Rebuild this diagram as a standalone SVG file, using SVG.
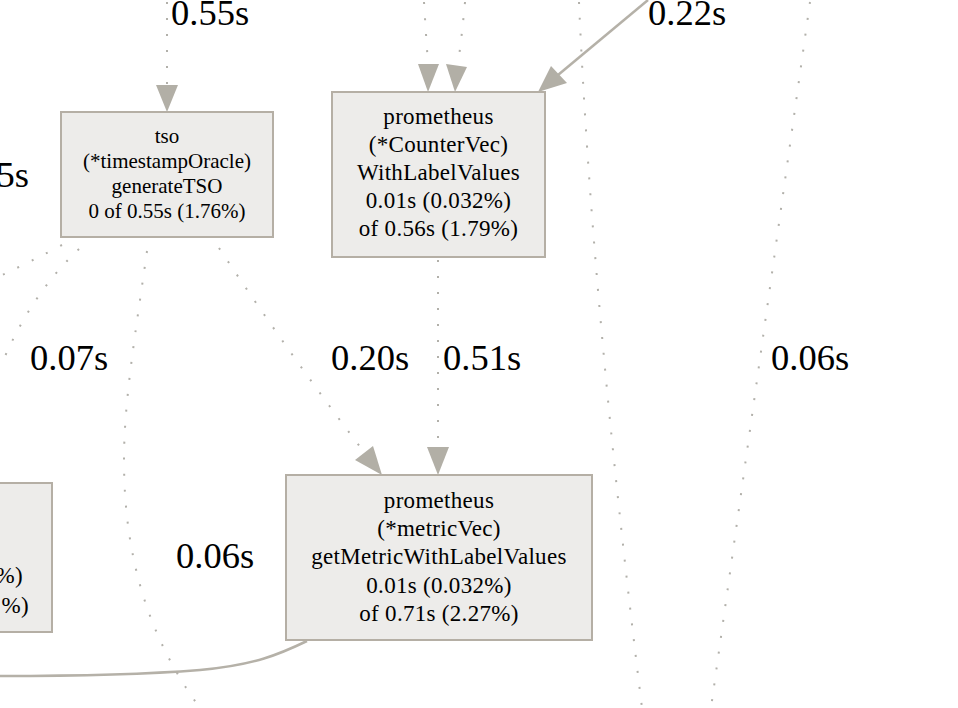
<svg xmlns="http://www.w3.org/2000/svg" width="958" height="708" viewBox="0 0 958 708">
<defs>
<style>
.node rect{fill:#edecea;stroke:#b5afa5;stroke-width:2}
.node text{font-family:"Liberation Serif","Times New Roman",serif;text-anchor:middle;fill:#000}
.n1 text{font-size:21px}
.n2 text{font-size:23px;letter-spacing:0.3px}
.dot{fill:none;stroke:#b2b0aa;stroke-width:2;stroke-dasharray:2,14}
.solid{fill:none;stroke:#b5b1a8;stroke-width:2.5}
.ah{fill:#b2afa6;stroke:none}
.lbl{font-family:"Liberation Serif","Times New Roman",serif;font-size:36.5px;fill:#000}
</style>
</defs>
<rect width="958" height="708" fill="#fff"/>
<g id="edges">
  <path class="dot" d="M167,2 L167,84"/>
  <polygon class="ah" points="156,85 178,85 167,112"/>
  <path class="dot" d="M424,2 Q426,35 428,64"/>
  <polygon class="ah" points="418,64 439,64 428,92"/>
  <path class="dot" d="M465,2 Q462,35 458,64"/>
  <polygon class="ah" points="446,64 467,67 455,92"/>
  <path class="solid" d="M648,0 L558,75"/>
  <polygon class="ah" points="551,66 567,83 538,92"/>
  <path class="dot" d="M579,2 Q592,300 642,708"/>
  <path class="dot" d="M810,2 L711,708"/>
  <path class="dot" d="M438,260 L438,446"/>
  <polygon class="ah" points="427,447 449,447 438,475"/>
  <path class="dot" d="M219,248 Q290,355 364,452"/>
  <polygon class="ah" points="355,460 373,446 382,475"/>
  <path class="dot" d="M147,251 C136,330 124,400 124,460 C124,560 150,640 200,708"/>
  <path class="dot" d="M62,245 Q30,262 0,276"/>
  <path class="dot" d="M79,249 Q30,295 0,368"/>
  <path class="solid" d="M307,641 C280,654 255,665 200,670 C150,674 70,676 0,676"/>
</g>
<g id="labels">
  <text class="lbl" x="171" y="25">0.55s</text>
  <text class="lbl" x="648" y="25">0.22s</text>
  <text class="lbl" x="29" y="187" text-anchor="end">5s</text>
  <text class="lbl" x="30" y="370">0.07s</text>
  <text class="lbl" x="331" y="370">0.20s</text>
  <text class="lbl" x="443" y="370">0.51s</text>
  <text class="lbl" x="771" y="370">0.06s</text>
  <text class="lbl" x="176" y="568">0.06s</text>
</g>
<g id="node-tso" class="node n1">
  <rect x="61" y="112" width="212" height="125"/>
  <text x="167" y="143">tso</text>
  <text x="167" y="168">(*timestampOracle)</text>
  <text x="167" y="193">generateTSO</text>
  <text x="167" y="218">0 of 0.55s (1.76%)</text>
</g>
<g id="node-countervec" class="node n2">
  <rect x="332" y="92" width="213" height="165"/>
  <text x="438.5" y="124">prometheus</text>
  <text x="438.5" y="152">(*CounterVec)</text>
  <text x="438.5" y="180">WithLabelValues</text>
  <text x="438.5" y="208">0.01s (0.032%)</text>
  <text x="438.5" y="236">of 0.56s (1.79%)</text>
</g>
<g id="node-metricvec" class="node n2">
  <rect x="286" y="475" width="306" height="165"/>
  <text x="439" y="508">prometheus</text>
  <text x="439" y="536">(*metricVec)</text>
  <text x="439" y="564">getMetricWithLabelValues</text>
  <text x="439" y="593">0.01s (0.032%)</text>
  <text x="439" y="621">of 0.71s (2.27%)</text>
</g>
<g id="node-left" class="node n2">
  <rect x="-10" y="483" width="62" height="149"/>
  <text x="23" y="583" style="text-anchor:end">%)</text>
  <text x="29" y="613" style="text-anchor:end">%)</text>
</g>
</svg>
